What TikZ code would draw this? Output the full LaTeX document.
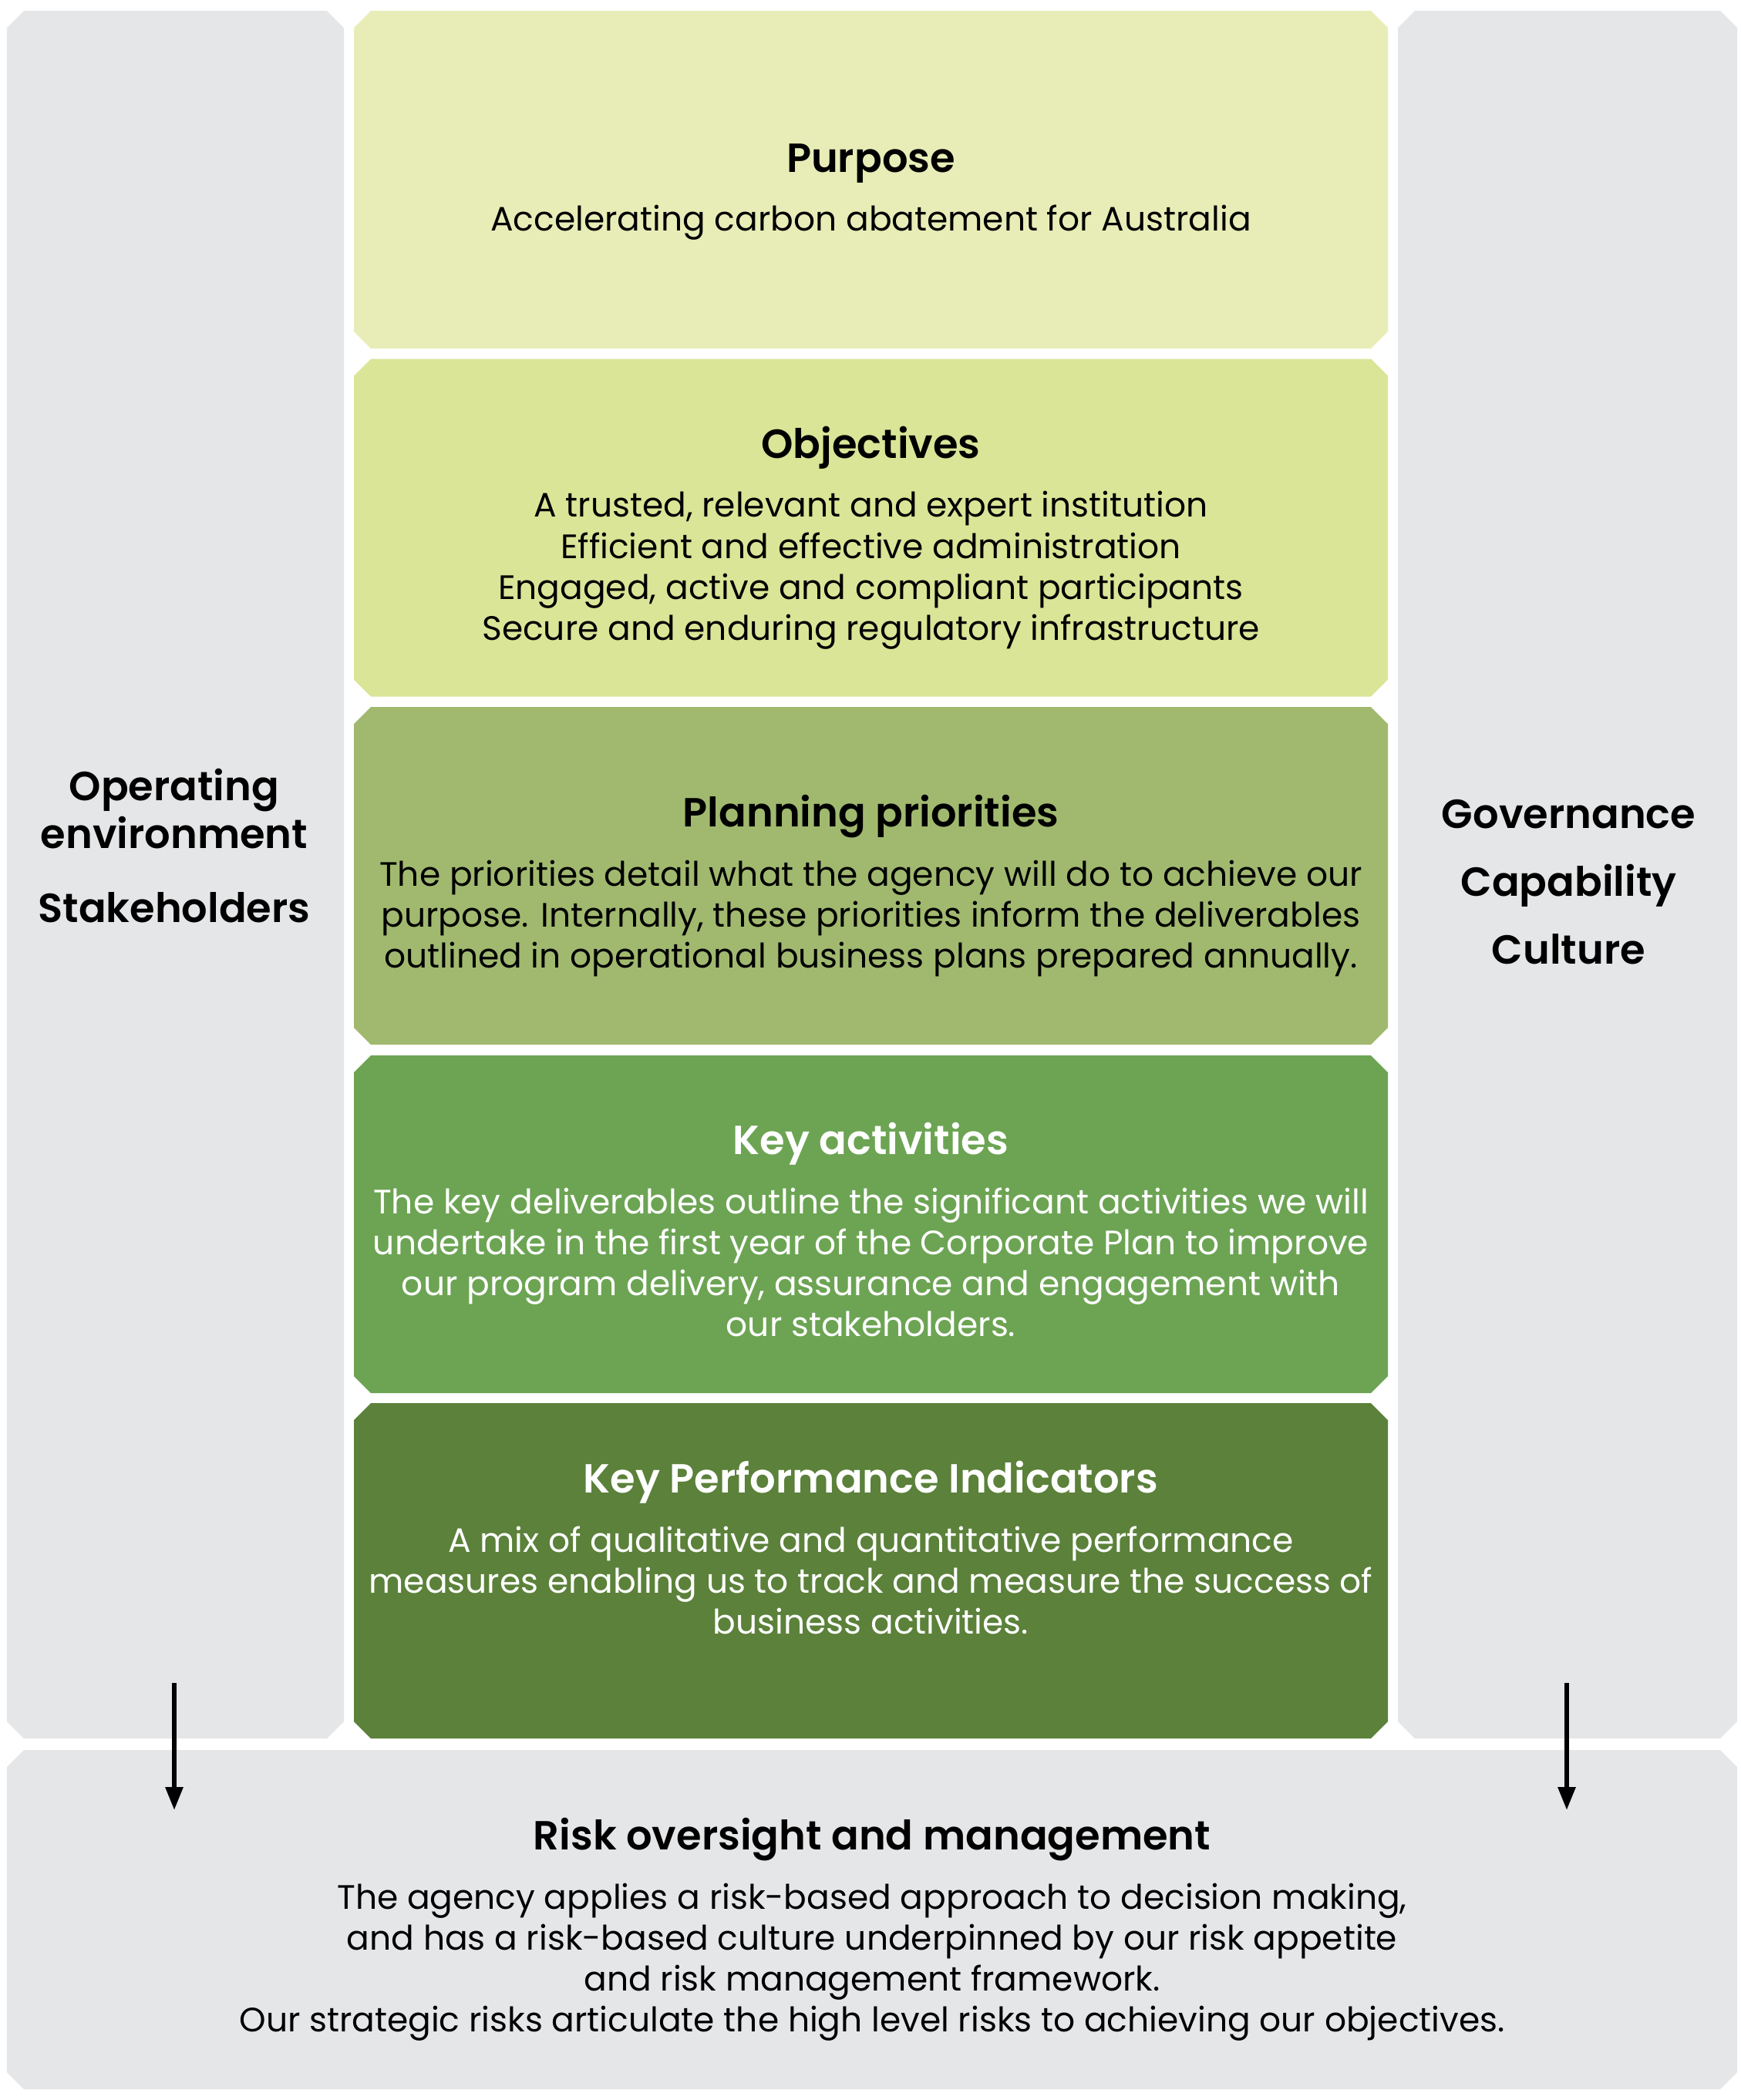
\documentclass[tikz,border=0pt]{standalone}
\usepackage{fontspec}
\setmainfont{Poppins}[BoldFont={Poppins SemiBold}]
\usetikzlibrary{arrows.meta}

\definecolor{greybox}{HTML}{E5E6E8}
\definecolor{purposecol}{HTML}{E8EDB8}
\definecolor{objcol}{HTML}{DAE597}
\definecolor{plancol}{HTML}{A1B96F}
\definecolor{actcol}{HTML}{6CA453}
\definecolor{kpicol}{HTML}{5B813A}

\newcommand{\boxhead}[1]{{\fontsize{15}{17}\selectfont\bfseries #1}}

\tikzset{
	chamf/.style={path picture={
		\fill[#1] ([xshift=2.2mm]path picture bounding box.north west)
			-- ([xshift=-2.2mm]path picture bounding box.north east)
			-- ([yshift=-2.2mm]path picture bounding box.north east)
			-- ([yshift=2.2mm]path picture bounding box.south east)
			-- ([xshift=-2.2mm]path picture bounding box.south east)
			-- ([xshift=2.2mm]path picture bounding box.south west)
			-- ([yshift=2.2mm]path picture bounding box.south west)
			-- ([yshift=-2.2mm]path picture bounding box.north west) -- cycle;}}
}

\begin{document}
\begin{tikzpicture}
	\tikzstyle{block}=[rectangle, inner sep=0pt]
	\tikzstyle{midblock}=[block, minimum width=13.41cm, minimum height=4.38cm]
	\tikzstyle{boxtext}=[align=center, inner sep=0pt, font=\fontsize{12.5}{15.1}\selectfont]
	\tikzstyle{sidetext}=[align=center, inner sep=0pt, font=\fontsize{15}{17.6}\selectfont\bfseries]
	\tikzstyle{down}=[line width=1.7pt, -{Triangle[length=0.3cm,width=0.22cm]}]
	\useasboundingbox (0,0) rectangle (22.58,-27.24);

	% side columns
	\node[block, chamf=greybox, minimum width=4.37cm, minimum height=22.41cm] (opcol) at (2.275,-11.345) {};
	\node[block, chamf=greybox, minimum width=4.40cm, minimum height=22.41cm] (govcol) at (20.33,-11.345) {};
	\node[sidetext] (optext) at (2.26,-10.97) {Operating\\environment\\[9.6pt]Stakeholders};
	\node[sidetext, font=\fontsize{15}{25}\selectfont\bfseries] (govtext) at (20.345,-11.44) {Governance\\Capability\\Culture};

	% centre stack
	\node[midblock, chamf=purposecol] (purpose) at (11.295,-2.33) {};
	\node[midblock, chamf=objcol] (objectives) at (11.295,-6.845) {};
	\node[midblock, chamf=plancol] (planning) at (11.295,-11.36) {};
	\node[midblock, chamf=actcol] (activities) at (11.295,-15.88) {};
	\node[midblock, chamf=kpicol, minimum height=4.35cm] (kpi) at (11.295,-20.375) {};

	\node[boxtext] (purposetxt) at ([yshift=-0.16cm]purpose.center)
		{\boxhead{Purpose}\\[6.7pt]Accelerating carbon abatement for Australia};
	\node[boxtext] (objtxt) at ([yshift=-0.13cm]objectives.center)
		{\boxhead{Objectives}\\[6.7pt]A trusted, relevant and expert institution\\
		Efficient and effective administration\\
		Engaged, active and compliant participants\\
		Secure and enduring regulatory infrastructure};
	\node[boxtext] (plantxt) at ([yshift=-0.13cm]planning.center)
		{\boxhead{Planning priorities}\\[6.7pt]The priorities detail what the agency will do to achieve our\\
		purpose. Internally, these priorities inform the deliverables\\
		outlined in operational business plans prepared annually.};
	\node[boxtext, text=white] (acttxt) at ([yshift=-0.07cm]activities.center)
		{\boxhead{Key activities}\\[6.7pt]The key deliverables outline the significant activities we will\\
		undertake in the first year of the Corporate Plan to improve\\
		our program delivery, assurance and engagement with\\
		our stakeholders.};
	\node[boxtext, text=white] (kpitxt) at ([yshift=0.3cm]kpi.center)
		{\boxhead{Key Performance Indicators}\\[6.7pt]A mix of qualitative and quantitative performance\\
		measures enabling us to track and measure the success of\\
		business activities.};

	% risk band
	\node[block, chamf=greybox, minimum width=22.44cm, minimum height=4.4cm] (risk) at (11.31,-24.9) {};
	\node[boxtext] (risktxt) at ([yshift=-0.13cm]risk.center)
		{\boxhead{Risk oversight and management}\\[6.7pt]The agency applies a risk-based approach to decision making,\\
		and has a risk-based culture underpinned by our risk appetite\\
		and risk management framework.\\
		Our strategic risks articulate the high level risks to achieving our objectives.};

	% arrows into risk band
	\coordinate (lstart) at (2.26,-21.83);
	\coordinate (lend) at (2.26,-23.48);
	\coordinate (rstart) at (20.32,-21.83);
	\coordinate (rend) at (20.32,-23.48);
	\draw[down] (lstart) -- (lend);
	\draw[down] (rstart) -- (rend);
\end{tikzpicture}
\end{document}
